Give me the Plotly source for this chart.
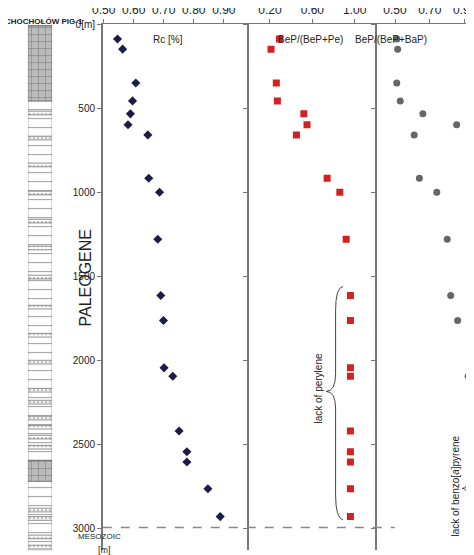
import plotly.graph_objects as go

depth = [89,149,350,457,534,599,659,917,1000,1280,1615,1763,2045,2095,2421,2544,2605,2764,2930]
rc = [0.546,0.563,0.607,0.596,0.589,0.581,0.647,0.65,0.686,0.68,0.69,0.699,0.701,0.73,0.751,0.777,0.777,0.847,0.888]
bep_pe = [0.29,0.21,0.26,0.27,0.52,0.55,0.45,0.74,0.86,0.92,0.96,0.96,0.96,0.96,0.96,0.96,0.96,0.96,0.96]
bep_bap = [0.51,0.515,0.51,0.53,0.66,0.854,0.61,0.64,0.74,0.80,0.82,0.86,0.93,0.92,0.93,0.93,0.98,0.98,0.98]

# lithology: (top, bottom, type)
sand_tops = [518,667,827,994,1161,1321,1494,1673,1840,2000,2167,2238,2333,2387,2446,2506,2880,2930,3040,3100]
lime = [(10,458),(2595,2720)]

fig = go.Figure()
fig.add_trace(go.Bar(x=[0],y=[3130-10],base=[10],width=1,xaxis="x4",yaxis="y4",
    marker=dict(color="white",line=dict(color="#888",width=0.8),pattern=dict(shape="-",fgcolor="#444",size=9,solidity=0.12)),showlegend=False,hoverinfo="skip"))
for t in sand_tops:
    fig.add_trace(go.Bar(x=[0],y=[22],base=[t],width=1,xaxis="x4",yaxis="y4",
        marker=dict(color="white",line=dict(color="#777",width=0.8),pattern=dict(shape=".",fgcolor="#777",size=4,solidity=0.3)),showlegend=False,hoverinfo="skip"))
for a,b in lime:
    fig.add_trace(go.Bar(x=[0],y=[b-a],base=[a],width=1,xaxis="x4",yaxis="y4",
        marker=dict(color="#bbb",line=dict(color="#555",width=0.8),pattern=dict(shape="+",fgcolor="#333",size=7,solidity=0.15)),showlegend=False,hoverinfo="skip"))

fig.add_trace(go.Scatter(x=rc,y=depth,mode="markers",marker=dict(symbol="diamond",size=7,color="#1c1c4a"),xaxis="x",yaxis="y",showlegend=False))
fig.add_trace(go.Scatter(x=bep_pe,y=depth,mode="markers",marker=dict(symbol="square",size=7,color="#d42020"),xaxis="x2",yaxis="y2",showlegend=False))
fig.add_trace(go.Scatter(x=bep_bap,y=depth,mode="markers",marker=dict(symbol="circle",size=7,color="#666"),xaxis="x3",yaxis="y3",showlegend=False))

yr = [3130, 0]
ydom = [0.023, 0.971]
xcommon = dict(side="top",showline=True,linecolor="#777",ticks="outside",ticklen=4,tickcolor="#777",automargin=False,
               showgrid=False,zeroline=False,tickfont=dict(size=12,color="#222",family="Liberation Sans"))
ycommon = dict(range=yr,domain=ydom,showline=True,linecolor="#777",linewidth=1.5,ticks="outside",ticklen=4,automargin=False,
               tickcolor="#777",showgrid=False,zeroline=False,tickvals=[0,500,1000,1500,2000,2500,3000])
fig.update_layout(
    width=474,height=555,margin=dict(l=0,r=0,t=0,b=0),plot_bgcolor="white",paper_bgcolor="white",
    barmode="overlay",
    xaxis=dict(**xcommon,domain=[0.200,0.506],range=[0.497,0.98],tickvals=[0.5,0.6,0.7,0.8,0.9],tickformat=".2f"),
    xaxis2=dict(**xcommon,domain=[0.508,0.776],range=[0.0,1.2],tickvals=[0.2,0.6,1.0],tickformat=".2f"),
    xaxis3=dict(**xcommon,domain=[0.778,1.0],range=[0.395,1.0],tickvals=[0.5,0.7,0.9],tickformat=".2f"),
    xaxis4=dict(domain=[0.042,0.093],range=[-0.5,0.5],visible=False,automargin=False),
    yaxis=dict(**ycommon,ticktext=["0[m]","500","1000","1500","2000","2500","3000"],tickfont=dict(size=10,color="#222",family="Liberation Sans"),anchor="x"),
    yaxis2=dict(**ycommon,showticklabels=False,anchor="x2"),
    yaxis3=dict(**ycommon,showticklabels=False,anchor="x3"),
    yaxis4=dict(range=yr,domain=ydom,visible=False,anchor="x4",automargin=False),
)
fig.add_shape(type="line",xref="paper",yref="y",x0=0.2,x1=0.816,y0=2994,y1=2994,line=dict(color="#888",width=1.5,dash="dash"))
fig.add_shape(type="path",xref="x2",yref="y2",line=dict(color="#444",width=1),
    path="M 0.89,1560 Q 0.82,1570 0.82,1700 L 0.82,2080 Q 0.82,2185 0.73,2185 Q 0.82,2185 0.82,2290 L 0.82,2800 Q 0.82,2940 0.89,2950")
fig.add_shape(type="path",xref="x3",yref="y3",line=dict(color="#444",width=1),
    path="M 0.95,2585 Q 0.915,2590 0.915,2650 L 0.915,2720 Q 0.915,2762 0.885,2762 Q 0.915,2762 0.915,2805 L 0.915,2910 Q 0.915,2965 0.95,2970")
fnt = dict(family="Liberation Sans",color="#222")
fig.add_annotation(x=0.66,y=2170,xref="x2",yref="y2",text="lack of perylene",textangle=-90,showarrow=False,font=dict(size=10,**fnt))
fig.add_annotation(x=0.846,y=2750,xref="x3",yref="y3",text="lack of benzo[<i>a</i>]pyrene",textangle=-90,showarrow=False,font=dict(size=10,**fnt))
fig.add_annotation(x=160/474,y=1-24/555,xref="paper",yref="paper",text="Rc [%]",showarrow=False,font=dict(size=10,**fnt))
fig.add_annotation(x=302/474,y=1-24/555,xref="paper",yref="paper",text="BeP/(BeP+Pe)",showarrow=False,font=dict(size=10,**fnt))
fig.add_annotation(x=421/474,y=1-24/555,xref="paper",yref="paper",text="BeP/(BeP+BaP)",showarrow=False,font=dict(size=10,**fnt))
fig.add_annotation(x=66/474,y=1-270/555,xref="paper",yref="paper",text="PALEOGENE",textangle=-90,showarrow=False,font=dict(size=16,**fnt))
fig.add_annotation(x=68/474,y=1-535/555,xref="paper",yref="paper",text="MESOZOIC",showarrow=False,font=dict(size=8,**fnt))
fig.add_annotation(x=88/474,y=1-549/555,xref="paper",yref="paper",text="[m]",showarrow=False,font=dict(size=9,**fnt))
fig.add_annotation(x=-0.01,y=1-7/555,xref="paper",yref="paper",xanchor="left",text="<b>CHOCHOŁÓW PIG-1</b>",showarrow=False,font=dict(size=8,**fnt))
fig.write_html("out.html")
